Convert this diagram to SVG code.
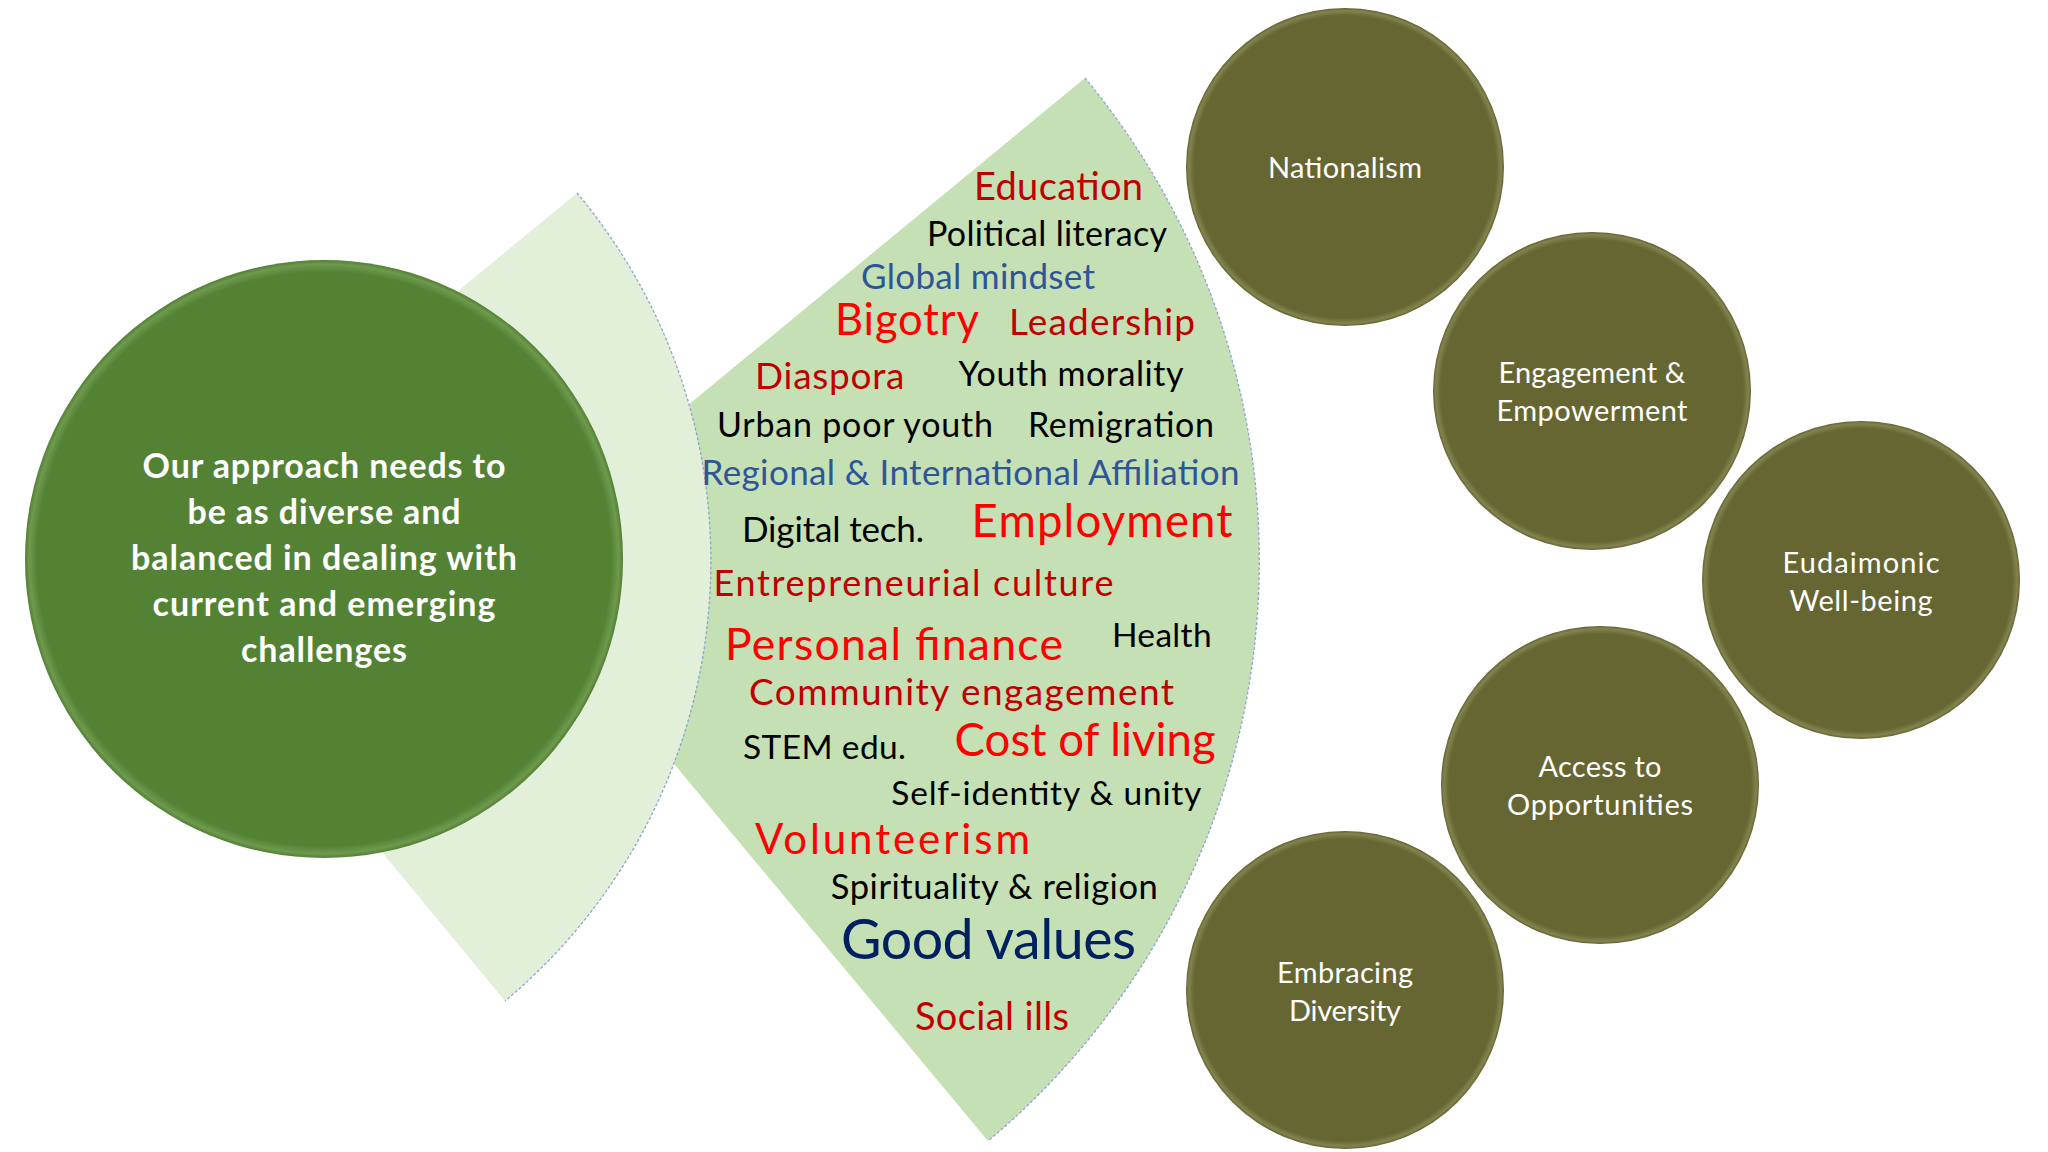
<svg xmlns="http://www.w3.org/2000/svg" width="2048" height="1152" viewBox="0 0 2048 1152">
  <defs>
    <radialGradient id="gGreen" cx="50%" cy="50%" r="50%">
      <stop offset="0%" stop-color="#548235"/>
      <stop offset="96%" stop-color="#548235"/>
      <stop offset="98.6%" stop-color="#6E9A4E"/>
      <stop offset="100%" stop-color="#527F33"/>
    </radialGradient>
    <radialGradient id="gOlive" cx="50%" cy="50%" r="50%">
      <stop offset="0%" stop-color="#666633"/>
      <stop offset="95%" stop-color="#666633"/>
      <stop offset="98.3%" stop-color="#838350"/>
      <stop offset="100%" stop-color="#626230"/>
    </radialGradient>
    <style>
      .wc { font-family: Lato, "Liberation Sans", sans-serif; }
      .dk { fill: #C00000; }
      .rd { fill: #FF0000; }
      .bk { fill: #000000; }
      .bl { fill: #2F5597; }
      .nv { fill: #002060; }
      .main { font-family: Lato, "Liberation Sans", sans-serif; font-weight: bold; font-size: 34px; fill: #FFFFFF; text-anchor: middle; }
      .lbl { font-family: Lato, "Liberation Sans", sans-serif; font-size: 29px; fill: #FFFFFF; text-anchor: middle; }
      .olive { fill: url(#gOlive); }
      .edge { fill: none; stroke: #8FA5CE; stroke-width: 1.3; stroke-dasharray: 3 2; }
    </style>
  </defs>
  <rect width="2048" height="1152" fill="#FFFFFF"/>

  <g id="wordcloud-wedge">
    <path d="M 656.9 430.8 L 1085 78 A 756 756 0 0 1 988 1141 L 630.6 711.7 A 200 200 0 0 0 656.9 430.8 Z" fill="#C5E0B4"/>
    <path class="edge" d="M 1085 78 A 756 756 0 0 1 988 1141"/>
  </g>

  <g id="pale-wedge">
    <path d="M 137 555.5 L 577 193 A 573 573 0 0 1 505 1001 Z" fill="#E2EFD9"/>
    <path class="edge" d="M 577 193 A 573 573 0 0 1 505 1001"/>
  </g>

  <g id="approach">
    <circle cx="324" cy="559" r="299" fill="url(#gGreen)"/>
    <text class="main" x="324" y="478" textLength="363">Our approach needs to</text>
    <text class="main" x="324" y="524" textLength="273">be as diverse and</text>
    <text class="main" x="324" y="570" textLength="386">balanced in dealing with</text>
    <text class="main" x="324" y="616" textLength="343">current and emerging</text>
    <text class="main" x="324" y="662" textLength="166">challenges</text>
  </g>

  <g id="words" class="wc">
    <text class="dk" x="974" y="199.5" font-size="38" textLength="169">Education</text>
    <text class="bk" x="927" y="245.7" font-size="34" textLength="240">Political literacy</text>
    <text class="bl" x="861" y="288.6" font-size="35" textLength="234">Global mindset</text>
    <text class="rd" x="835" y="335" font-size="43.5" textLength="144">Bigotry</text>
    <text class="dk" x="1009" y="335" font-size="37" textLength="186">Leadership</text>
    <text class="dk" x="755" y="388.6" font-size="37" textLength="149.5">Diaspora</text>
    <text class="bk" x="958.5" y="385.7" font-size="34" textLength="225">Youth morality</text>
    <text class="bk" x="717" y="436.8" font-size="34" textLength="276">Urban poor youth</text>
    <text class="bk" x="1028" y="436.8" font-size="34" textLength="186">Remigration</text>
    <text class="bl" x="701.5" y="485" font-size="35" textLength="538">Regional &amp; International Affiliation</text>
    <text class="bk" x="742" y="542" font-size="35" textLength="182">Digital tech.</text>
    <text class="rd" x="971.6" y="536.8" font-size="45.5" textLength="261">Employment</text>
    <text class="dk" x="713.4" y="596" font-size="36" textLength="400">Entrepreneurial culture</text>
    <text class="rd" x="725" y="659.7" font-size="44.5" textLength="338">Personal finance</text>
    <text class="bk" x="1112" y="647.3" font-size="33.5" textLength="99.6">Health</text>
    <text class="dk" x="749" y="704.8" font-size="37" textLength="425">Community engagement</text>
    <text class="bk" x="743" y="759.4" font-size="33.5" textLength="163">STEM edu.</text>
    <text class="rd" x="954.6" y="756.4" font-size="45.5" textLength="261">Cost of living</text>
    <text class="bk" x="891.3" y="804.5" font-size="33.5" textLength="310">Self-identity &amp; unity</text>
    <text class="rd" x="755" y="853.5" font-size="42" textLength="275">Volunteerism</text>
    <text class="bk" x="830.8" y="898.6" font-size="34.5" textLength="327">Spirituality &amp; religion</text>
    <text class="nv" x="841" y="958.8" font-size="55.5" textLength="295">Good values</text>
    <text class="dk" x="915" y="1030.3" font-size="38" textLength="154">Social ills</text>
  </g>

  <g id="nationalism">
    <circle class="olive" cx="1345" cy="167" r="159"/>
    <text class="lbl" x="1345" y="178" textLength="154">Nationalism</text>
  </g>
  <g id="engagement">
    <circle class="olive" cx="1592" cy="391" r="159"/>
    <text class="lbl" x="1592" y="383" textLength="187">Engagement &amp;</text>
    <text class="lbl" x="1592" y="421" textLength="191">Empowerment</text>
  </g>
  <g id="eudaimonic">
    <circle class="olive" cx="1861" cy="580" r="159"/>
    <text class="lbl" x="1861" y="573" textLength="157">Eudaimonic</text>
    <text class="lbl" x="1861" y="611" textLength="143">Well-being</text>
  </g>
  <g id="access">
    <circle class="olive" cx="1600" cy="785" r="159"/>
    <text class="lbl" x="1600" y="777" textLength="123">Access to</text>
    <text class="lbl" x="1600" y="815" textLength="186">Opportunities</text>
  </g>
  <g id="diversity">
    <circle class="olive" cx="1345" cy="990" r="159"/>
    <text class="lbl" x="1345" y="983" textLength="136">Embracing</text>
    <text class="lbl" x="1345" y="1021" textLength="112">Diversity</text>
  </g>

  <g id="connectors"/>
</svg>
